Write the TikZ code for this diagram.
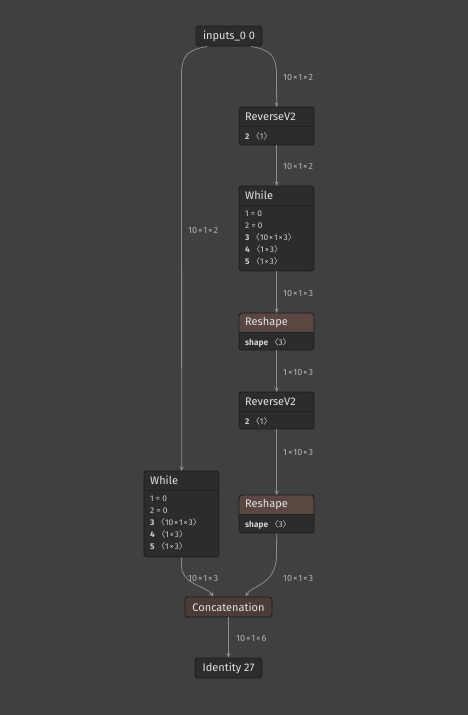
\documentclass[tikz,border=0pt]{standalone}
\usepackage{fontspec}
\setmainfont{Fira Sans}
\newfontfamily\cjkb{Noto Sans CJK SC}
\usetikzlibrary{arrows.meta}
\definecolor{bg}{HTML}{404040}
\definecolor{nodebody}{HTML}{2C2C2C}
\definecolor{nodeborder}{HTML}{1C1C1C}
\definecolor{sepline}{HTML}{222222}
\definecolor{hdrbrown}{HTML}{5B4741}
\definecolor{concatfill}{HTML}{4B3C37}
\definecolor{txt}{HTML}{E4E4E4}
\definecolor{bodytxt}{HTML}{D2D2D2}
\definecolor{edgecol}{HTML}{8C8C8C}
\definecolor{lbl}{HTML}{B4B4B4}
\newcommand\lb{{\cjkb\mdseries 〈}}
\newcommand\rb{{\cjkb\mdseries 〉}}
\newcommand\tm{\kern0.9pt×\kern0.9pt}
\newcommand\opbox[7]{%
  \begin{scope}
    \clip[rounded corners=3pt] (#2,#3) rectangle ({#2+75},#4);
    \fill[nodebody] (#2,#3) rectangle ({#2+75},#4);
    \fill[#5] (#2,#3) rectangle ({#2+75},{#3+19});
    \draw[sepline, line width=1pt] (#2,{#3+19}) -- ({#2+75},{#3+19});
  \end{scope}
  \draw[nodeborder, line width=0.9pt, rounded corners=3pt] (#2,#3) rectangle ({#2+75},#4);
  \node[inner sep=0pt, minimum width=75pt, minimum height={(#4-#3)*1pt}, anchor=north west] (#1) at (#2,#3) {};
  \node[titletext, anchor=west] at ({#2+6},{#3+9.5}) {#6};
  \node[bodytext, anchor=north west] at ({#2+6},{#3+25}) {#7};
}
\tikzset{
  titletext/.style={inner sep=0pt, text=txt, font=\fontsize{11}{12}\selectfont},
  bodytext/.style={inner sep=0pt, text=bodytxt, align=left, font=\fontsize{8.3}{12}\selectfont},
  simplebox/.style={draw=nodeborder, line width=0.9pt, rounded corners=3pt, fill=nodebody, text=txt,
    inner sep=0pt, minimum height=20pt, font=\fontsize{11}{12}\selectfont},
  edge/.style={draw=edgecol, line width=0.8pt, -{Stealth[length=4.5pt,width=4pt]}},
  elabel/.style={inner sep=0pt, text=lbl, font=\fontsize{9}{10}\selectfont, anchor=west},
}
\begin{document}
\begin{tikzpicture}[x=1pt,y=-1pt]
\fill[bg] (0,0) rectangle (468,715);
\useasboundingbox (0,0) rectangle (468,715);

\node[simplebox, minimum width=66pt] (inputs) at (229,36) {inputs\_0 0};

\opbox{rv1}{239}{107}{145}{nodebody}{ReverseV2}{\textbf{2} \lb 1\rb}
\opbox{wh1}{239}{186}{271}{nodebody}{While}{1 = 0\\2 = 0\\\textbf{3} \lb 10\tm1\tm3\rb\\\textbf{4} \lb 1\tm3\rb\\\textbf{5} \lb 1\tm3\rb}
\opbox{rs1}{239}{313}{350}{hdrbrown}{Reshape}{\textbf{shape} \lb 3\rb}
\opbox{rv2}{239}{392}{429}{nodebody}{ReverseV2}{\textbf{2} \lb 1\rb}
\opbox{wh2}{144}{471}{557}{nodebody}{While}{1 = 0\\2 = 0\\\textbf{3} \lb 10\tm1\tm3\rb\\\textbf{4} \lb 1\tm3\rb\\\textbf{5} \lb 1\tm3\rb}
\opbox{rs2}{239}{495}{533}{hdrbrown}{Reshape}{\textbf{shape} \lb 3\rb}

\node[simplebox, fill=concatfill, minimum width=87pt] (concat) at (228.5,607) {Concatenation};
\node[simplebox, minimum width=67pt] (ident) at (228.5,668) {Identity 27};

\coordinate (c1) at (276.5,75);
\coordinate (c2) at (181.5,75);
\coordinate (c3) at (181.5,565);
\coordinate (c4) at (276.5,555);

\draw[edge] ([xshift=22pt]inputs.south) .. controls (271,50) and (276.5,56) .. (c1) -- (rv1.north);
\draw[edge] ([xshift=-22pt]inputs.south) .. controls (187,50) and (181.5,56) .. (c2) -- (wh2.north);
\draw[edge] (rv1.south) -- (wh1.north);
\draw[edge] (wh1.south) -- (rs1.north);
\draw[edge] (rs1.south) -- (rv2.north);
\draw[edge] (rv2.south) -- (rs2.north);
\draw[edge] (wh2.south) -- (c3) .. controls (181.5,585) and (205,585) .. ([xshift=-15pt]concat.north);
\draw[edge] (rs2.south) -- (c4) .. controls (276.5,585) and (252,585) .. ([xshift=17pt]concat.north);
\draw[edge] (concat.south) -- (ident.north);

\node[elabel] (l1) at (283,77) {10\tm1\tm2};
\node[elabel] (l2) at (188,230) {10\tm1\tm2};
\node[elabel] (l3) at (283,166) {10\tm1\tm2};
\node[elabel] (l4) at (283,293) {10\tm1\tm3};
\node[elabel] (l5) at (283,372) {1\tm10\tm3};
\node[elabel] (l6) at (283,452) {1\tm10\tm3};
\node[elabel] (l7) at (188,578) {10\tm1\tm3};
\node[elabel] (l8) at (283,578) {10\tm1\tm3};
\node[elabel] (l9) at (236,638) {10\tm1\tm6};
\end{tikzpicture}
\end{document}
